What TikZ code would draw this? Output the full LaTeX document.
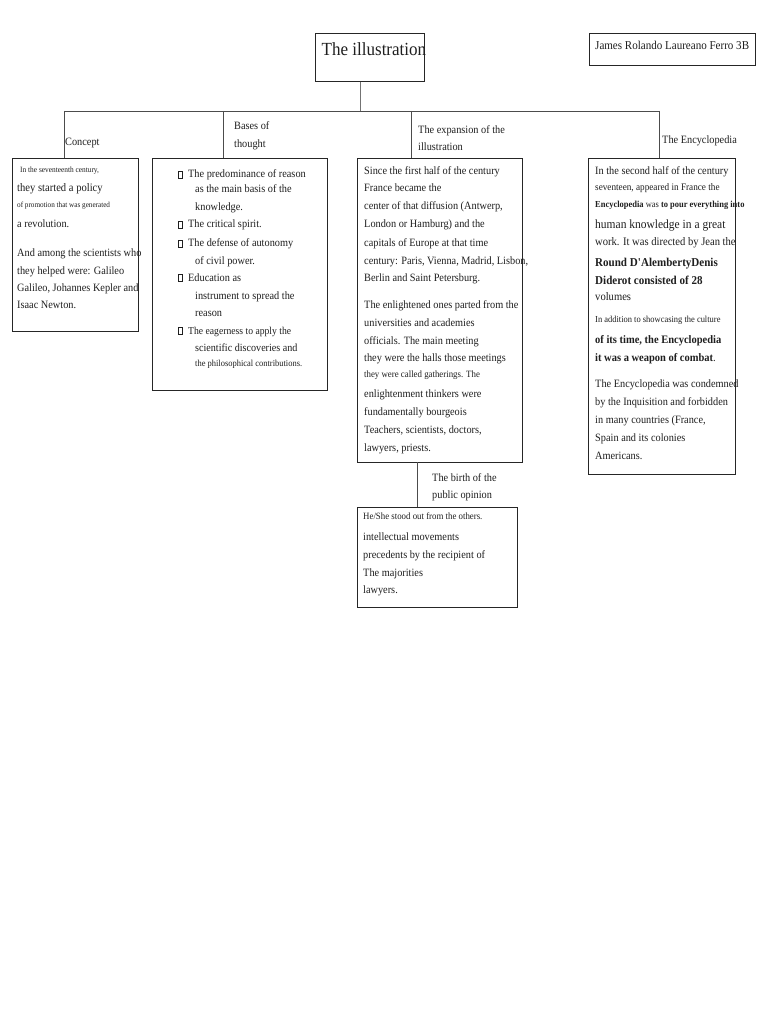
\documentclass[tikz,border=0pt]{standalone}
\usepackage{fontspec}
\setmainfont{Liberation Serif}[FakeStretch=0.92]
\newcounter{tln}
\newcommand\tx[4]{\stepcounter{tln}\edef\tlname{t\arabic{tln}}%
  \node[txt,font=\fontsize{#1}{#1}\selectfont] (\tlname) at (#2,#3) {#4};}
\newcommand\bx{\makebox[10pt][l]{\raisebox{0.2pt}{\fboxsep=0pt\fboxrule=0.45pt\fbox{\rule{0pt}{6.2pt}\hspace{3.4pt}}}}}
\tikzset{
  txt/.style={anchor=base west,inner sep=0pt,text=black!88},
  box/.style={draw=black!85,line width=1pt,rectangle,inner sep=0pt},
  conn/.style={draw=black!70,line width=0.9pt},
}
\begin{document}
\begin{tikzpicture}[x=1pt,y=-1pt]
\fill[white] (0,0) rectangle (768,1024);
\useasboundingbox (0,0) rectangle (768,1024);

% boxes
\node[box,minimum width=109.3,minimum height=48.4] (title) at (369.65,57.5) {};
\node[box,minimum width=165.7,minimum height=32.4] (author) at (672.15,49.5) {};
\node[box,minimum width=126,minimum height=172] (concept) at (75,245) {};
\node[box,minimum width=175,minimum height=231] (bases) at (239.5,274.5) {};
\node[box,minimum width=165,minimum height=303] (expansion) at (439.5,310.5) {};
\node[box,minimum width=147,minimum height=315] (ency) at (661.5,316.5) {};
\node[box,minimum width=160,minimum height=100] (birth) at (437,557) {};

% connectors
\coordinate (tc) at (360,81.7);
\coordinate (barL) at (64,111);
\coordinate (b2) at (223,111);
\coordinate (b3) at (411,111);
\coordinate (barR) at (659,111);
\coordinate (bt) at (417,462);
\draw[conn,draw=black!55] (tc) -- (tc |- barL);
\draw[conn] (barL) -- (barR);
\draw[conn] (barL) -- (barL |- concept.north);
\draw[conn] (b2) -- (b2 |- bases.north);
\draw[conn] (b3) -- (b3 |- expansion.north);
\draw[conn] (barR) -- (barR |- ency.north);
\draw[conn] (bt) -- (bt |- birth.north);

% title and author
\tx{18.5}{321.5}{55.5}{The illustration}
\tx{12}{595}{49.5}{James Rolando Laureano Ferro 3B}

% branch labels
\tx{11.2}{65}{146}{Concept}
\tx{11.2}{234}{130}{Bases of}
\tx{11.2}{234}{148}{thought}
\tx{11.2}{418}{134}{The expansion of the}
\tx{11.2}{418}{151}{illustration}
\tx{11.2}{662}{144}{The Encyclopedia}
\tx{11.2}{432}{481}{The birth of the}
\tx{11.2}{432}{498}{public opinion}

% concept
\tx{8}{20}{173}{In the seventeenth century,}
\tx{11.5}{17}{192}{they started a policy}
\tx{7.8}{17}{208}{of promotion that was generated}
\tx{11.2}{17}{228}{a revolution.}
\tx{11.2}{17}{256}{And among the scientists who}
\tx{11.2}{17}{274}{they helped were: Galileo}
\tx{11.2}{17}{291}{Galileo, Johannes Kepler and}
\tx{11.2}{17}{308}{Isaac Newton.}

% bases of thought
\tx{11.2}{178}{178}{\bx The predominance of reason}
\tx{11.2}{195}{193}{as the main basis of the}
\tx{11.2}{195}{211}{knowledge.}
\tx{11.2}{178}{228}{\bx The critical spirit.}
\tx{11.2}{178}{247}{\bx The defense of autonomy}
\tx{11.2}{195}{264}{of civil power.}
\tx{11.2}{178}{281}{\bx Education as}
\tx{11.2}{195}{299}{instrument to spread the}
\tx{11.2}{195}{316}{reason}
\tx{10.5}{178}{334}{\bx The eagerness to apply the}
\tx{11}{195}{351}{scientific discoveries and}
\tx{9.2}{195}{366}{the philosophical contributions.}

% expansion
\tx{11.2}{364}{175}{Since the first half of the century}
\tx{11.2}{364}{192}{France became the}
\tx{11.2}{364}{210}{center of that diffusion (Antwerp,}
\tx{11.2}{364}{228}{London or Hamburg) and the}
\tx{11.2}{364}{246}{capitals of Europe at that time}
\tx{11.2}{364}{264}{century: Paris, Vienna, Madrid, Lisbon,}
\tx{11.2}{364}{281}{Berlin and Saint Petersburg.}
\tx{11.2}{364}{308}{The enlightened ones parted from the}
\tx{11.2}{364}{326}{universities and academies}
\tx{11.2}{364}{344}{officials. The main meeting}
\tx{11.2}{364}{361}{they were the halls those meetings}
\tx{9.6}{364}{377}{they were called gatherings. The}
\tx{11.2}{364}{397}{enlightenment thinkers were}
\tx{11.2}{364}{415}{fundamentally bourgeois}
\tx{11.2}{364}{433}{Teachers, scientists, doctors,}
\tx{11.2}{364}{451}{lawyers, priests.}

% encyclopedia
\tx{11.2}{595}{175}{In the second half of the century}
\tx{10}{595}{190.5}{seventeen, appeared in France the}
\tx{9.2}{595}{207.5}{\textbf{Encyclopedia} was \textbf{to pour everything into}}
\tx{12.5}{595}{228.5}{human knowledge in a great}
\tx{11.5}{595}{245}{work. It was directed by Jean the}
\tx{12}{595}{266.5}{\textbf{Round D\textquotesingle AlembertyDenis}}
\tx{12}{595}{284.5}{\textbf{Diderot consisted of 28}}
\tx{11.5}{595}{300}{volumes}
\tx{9.2}{595}{322}{In addition to showcasing the culture}
\tx{11.4}{595}{343}{\textbf{of its time, the Encyclopedia}}
\tx{11.4}{595}{361}{\textbf{it was a weapon of combat}.}
\tx{11.2}{595}{387}{The Encyclopedia was condemned}
\tx{11.2}{595}{405}{by the Inquisition and forbidden}
\tx{11.2}{595}{423}{in many countries (France,}
\tx{11.2}{595}{441}{Spain and its colonies}
\tx{11.2}{595}{459}{Americans.}

% birth of public opinion
\tx{9.6}{363}{519}{He/She stood out from the others.}
\tx{11.2}{363}{540}{intellectual movements}
\tx{11.2}{363}{558}{precedents by the recipient of}
\tx{11.2}{363}{576}{The majorities}
\tx{11.2}{363}{593}{lawyers.}
\end{tikzpicture}
\end{document}
